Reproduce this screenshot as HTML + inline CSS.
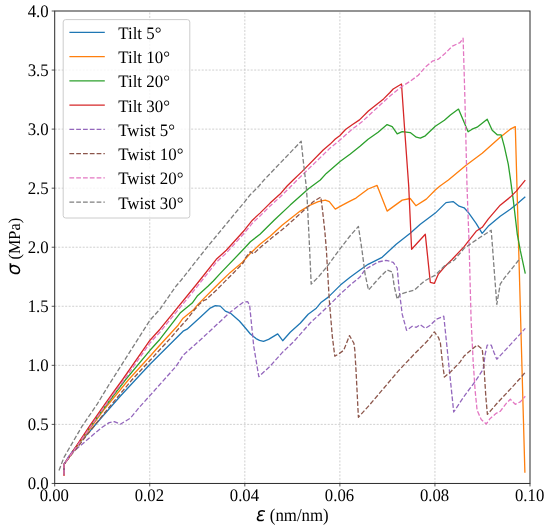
<!DOCTYPE html>
<html><head><meta charset="utf-8"><title>Stress-strain</title>
<style>
html,body{margin:0;padding:0;background:#fff;}
svg{display:block;}
text{font-family:"Liberation Serif","Times New Roman",serif;fill:#000;text-rendering:geometricPrecision;}
.sym{font-family:"DejaVu Sans","Liberation Sans",sans-serif;font-style:italic;}
</style></head><body>
<svg width="550" height="528" viewBox="0 0 550 528">
<rect width="550" height="528" fill="#fff"/>

<g stroke="#bcbcbc" stroke-width="0.7" stroke-dasharray="2 1.5" fill="none">
<path d="M149.76 483.45 V11.0"/>
<path d="M244.82 483.45 V11.0"/>
<path d="M339.88 483.45 V11.0"/>
<path d="M434.94 483.45 V11.0"/>
<path d="M54.7 424.39 H530.0"/>
<path d="M54.7 365.34 H530.0"/>
<path d="M54.7 306.28 H530.0"/>
<path d="M54.7 247.22 H530.0"/>
<path d="M54.7 188.17 H530.0"/>
<path d="M54.7 129.11 H530.0"/>
<path d="M54.7 70.06 H530.0"/>
</g>
<clipPath id="c"><rect x="54.7" y="11.0" width="475.3" height="472.45"/></clipPath>
<g clip-path="url(#c)" fill="none" stroke-width="1.3" stroke-linejoin="round">
<path d="M64.0 474.4 L64.0 464.3 L72.0 452.0 L80.0 442.0 L90.0 431.0 L102.0 417.0 L120.0 396.5 L135.3 380.0 L150.0 364.3 L160.0 354.3 L180.1 334.2 L183.1 331.2 L187.1 329.2 L200.0 317.5 L210.2 308.1 L215.3 305.7 L220.3 306.1 L225.3 311.1 L230.3 313.1 L239.4 321.0 L245.0 327.5 L250.4 334.0 L256.0 338.6 L259.5 340.4 L263.5 341.4 L268.6 339.4 L277.7 333.9 L282.7 340.7 L290.2 332.3 L300.2 323.3 L308.2 314.2 L316.3 308.2 L321.3 302.2 L328.3 297.1 L340.4 285.1 L350.4 277.1 L360.0 270.0 L368.1 264.3 L382.1 257.3 L396.2 244.3 L410.2 233.2 L420.3 224.2 L435.3 213.1 L444.4 204.1 L446.0 202.6 L453.1 201.6 L459.1 206.2 L464.1 207.8 L468.1 212.2 L476.1 223.3 L482.2 233.3 L488.2 226.3 L500.2 216.2 L510.3 209.2 L516.3 204.6 L525.3 196.7" stroke="#1f77b4" stroke-linecap="butt"/>
<path d="M64.0 474.4 L64.0 464.3 L76.0 447.5 L90.0 428.5 L104.0 409.5 L116.0 395.0 L128.3 380.0 L150.0 356.3 L160.0 345.0 L178.1 325.2 L183.1 318.2 L193.2 310.1 L198.2 304.1 L216.3 286.0 L220.3 282.0 L230.3 272.4 L242.4 262.3 L250.4 253.3 L260.0 244.3 L270.1 236.2 L282.1 225.2 L300.2 211.1 L310.2 205.1 L318.3 201.7 L325.3 200.1 L329.3 201.7 L335.3 209.1 L342.4 205.1 L350.0 201.1 L356.0 198.1 L368.1 189.0 L377.1 185.4 L387.1 211.1 L402.2 200.1 L410.2 198.5 L415.9 205.7 L426.3 199.1 L435.3 190.0 L440.0 186.0 L448.4 180.0 L466.1 165.3 L482.2 153.3 L500.2 137.2 L510.3 129.2 L515.3 126.6 L524.9 472.7" stroke="#ff7f0e" stroke-linecap="butt"/>
<path d="M64.0 474.4 L64.0 464.3 L76.0 447.0 L90.0 427.0 L104.0 408.0 L115.0 393.5 L125.3 380.0 L150.0 350.3 L160.0 339.2 L180.1 313.1 L192.2 303.1 L197.2 296.1 L208.2 286.0 L213.3 281.0 L220.3 273.4 L244.4 248.3 L250.4 241.7 L260.0 234.2 L274.1 220.2 L290.2 205.1 L308.2 189.0 L312.2 186.0 L320.3 180.0 L326.3 173.4 L340.4 161.3 L350.0 154.3 L360.0 146.3 L368.1 139.2 L378.1 132.2 L387.1 124.6 L392.2 126.6 L397.2 133.8 L402.2 131.6 L410.2 132.6 L416.3 137.2 L420.3 138.2 L425.3 135.8 L435.3 126.2 L444.4 120.2 L450.4 115.1 L458.5 109.1 L468.1 131.8 L472.1 129.2 L477.1 127.2 L487.2 119.2 L492.2 130.2 L497.2 134.8 L501.2 134.8 L504.3 146.3 L508.3 164.3 L510.3 178.1 L513.3 200.2 L517.3 234.3 L520.3 250.4 L525.3 273.7" stroke="#2ca02c" stroke-linecap="butt"/>
<path d="M64.0 475.9 L64.0 464.3 L76.1 446.3 L90.2 425.2 L104.2 405.1 L114.3 391.0 L122.3 380.0 L150.0 340.2 L160.0 329.2 L195.2 286.0 L199.2 281.0 L216.3 259.3 L226.3 250.3 L244.4 230.2 L252.4 220.2 L260.0 213.1 L270.1 203.1 L280.1 194.1 L287.1 186.0 L293.2 180.0 L302.2 171.4 L323.2 150.0 L330.2 144.1 L335.3 139.0 L339.7 135.8 L345.5 129.5 L351.8 125.0 L359.5 119.9 L368.4 111.0 L374.7 105.9 L383.6 98.9 L389.7 92.8 L393.2 89.0 L401.5 84.0 L404.7 130.2 L408.7 186.0 L411.6 249.3 L425.3 234.2 L430.3 282.4 L434.3 283.4 L438.4 274.1 L444.4 267.0 L452.0 259.5 L464.1 246.6 L476.1 231.3 L482.2 227.3 L488.2 219.2 L500.2 205.2 L510.3 197.1 L516.3 191.1 L525.3 180.1" stroke="#d62728" stroke-linecap="butt"/>
<path d="M64.0 472.5 L64.0 464.3 L70.0 454.3 L82.1 444.3 L90.2 437.2 L102.2 427.2 L109.2 422.6 L114.3 421.6 L120.3 424.2 L130.3 418.2 L140.4 406.1 L150.4 395.1 L158.5 386.0 L176.1 366.3 L183.1 355.3 L202.2 338.2 L230.3 312.1 L243.4 302.1 L247.6 301.7 L249.6 305.0 L253.7 346.0 L258.8 376.7 L270.2 366.1 L282.2 352.6 L294.3 341.0 L310.2 323.0 L326.3 308.0 L340.4 294.0 L350.4 284.8 L360.0 277.0 L365.1 269.5 L378.1 262.0 L386.1 260.3 L393.2 262.3 L397.2 268.0 L399.2 290.1 L402.2 314.2 L406.6 330.3 L412.2 326.3 L416.3 327.3 L420.3 324.7 L425.3 328.3 L430.3 325.3 L436.3 319.2 L443.8 316.2 L453.7 412.0 L464.1 396.3 L476.1 380.2 L483.2 369.2 L485.2 354.1 L487.2 345.1 L491.2 345.1 L494.2 353.1 L496.8 359.2 L506.3 349.1 L525.3 328.4" stroke="#9467bd" stroke-dasharray="4.75 2.05" stroke-linecap="butt"/>
<path d="M64.0 474.4 L64.0 464.3 L76.0 449.0 L90.0 431.3 L104.0 413.5 L116.0 399.0 L131.8 380.0 L150.9 359.5 L160.0 349.5 L169.7 339.1 L177.4 330.0 L186.9 319.5 L194.5 309.8 L199.6 303.9 L203.5 300.7 L206.0 299.7 L216.5 290.0 L225.5 280.9 L234.4 272.0 L243.3 262.8 L245.8 257.4 L250.3 251.6 L253.5 253.9 L258.5 249.1 L261.3 246.6 L272.7 237.1 L285.5 226.9 L298.2 215.5 L304.5 209.7 L313.5 201.5 L320.8 197.0 L322.4 209.1 L324.9 232.0 L326.4 250.0 L327.3 266.3 L329.3 300.2 L332.3 336.3 L334.8 356.2 L339.4 353.4 L343.7 350.3 L349.5 335.6 L353.9 343.3 L354.8 350.0 L356.0 370.1 L358.4 417.3 L370.1 404.3 L382.1 390.2 L398.2 371.1 L414.3 354.1 L428.3 340.0 L434.3 331.9 L438.4 337.3 L440.4 343.0 L442.4 362.1 L444.4 377.1 L450.4 372.1 L460.0 362.1 L464.1 356.1 L472.1 349.1 L477.1 345.1 L482.2 349.1 L483.8 364.2 L485.8 396.3 L487.4 414.4 L496.2 404.3 L508.3 391.3 L520.3 378.2 L525.3 372.2" stroke="#8c564b" stroke-dasharray="4.75 2.05" stroke-linecap="butt"/>
<path d="M64.0 474.8 L64.0 464.3 L76.1 447.3 L90.2 427.2 L104.2 407.1 L114.3 393.0 L122.3 382.5 L150.0 343.0 L160.0 332.0 L195.2 289.0 L199.2 284.0 L216.3 262.3 L226.3 253.0 L244.4 233.0 L252.4 223.2 L260.0 216.0 L270.1 206.0 L280.1 197.0 L291.2 186.0 L297.2 180.0 L330.2 147.9 L339.7 140.3 L351.8 129.5 L362.0 121.8 L370.9 113.5 L379.8 105.3 L389.7 96.3 L402.2 86.3 L410.2 81.2 L418.3 75.2 L425.3 67.2 L432.3 61.2 L438.4 59.2 L444.4 54.1 L452.4 46.1 L460.0 42.7 L463.1 38.2 L464.1 70.3 L465.1 106.0 L467.0 186.0 L469.1 244.0 L471.1 320.0 L473.1 360.2 L475.1 390.3 L477.1 410.3 L481.2 419.4 L486.2 424.0 L490.2 418.4 L496.2 413.3 L500.2 411.3 L506.3 403.3 L510.3 399.3 L515.3 404.3 L520.3 401.9 L525.3 396.3" stroke="#e377c2" stroke-dasharray="4.75 2.05" stroke-linecap="butt"/>
<path d="M59.0 470.4 L64.0 457.3 L82.1 426.2 L97.2 404.1 L110.0 383.0 L150.0 320.2 L160.0 309.1 L176.1 286.0 L181.3 280.0 L206.2 248.3 L244.4 202.1 L250.0 195.0 L259.0 186.0 L264.0 180.0 L301.2 141.2 L303.2 160.3 L306.2 186.0 L307.2 200.0 L309.2 240.2 L311.2 284.1 L318.3 277.1 L327.3 266.3 L340.4 248.3 L350.0 236.0 L358.4 226.4 L362.0 250.3 L365.1 274.1 L368.5 290.1 L378.1 279.1 L387.1 270.0 L392.2 272.0 L394.2 286.1 L397.2 299.2 L400.2 294.1 L414.3 290.1 L424.3 281.1 L435.3 275.1 L444.4 266.0 L454.4 260.0 L464.1 248.3 L480.2 237.3 L491.2 230.3 L492.6 248.3 L494.2 270.1 L496.8 304.3 L500.2 284.2 L504.3 278.2 L512.3 268.1 L520.3 258.1" stroke="#7f7f7f" stroke-dasharray="4.75 2.05" stroke-linecap="butt"/>
</g>
<rect x="54.7" y="11.0" width="475.3" height="472.45" fill="none" stroke="#2a2a2a" stroke-width="1.0"/>
<g stroke="#2a2a2a" stroke-width="0.8">
<path d="M54.70 483.45 v3.0"/>
<path d="M149.76 483.45 v3.0"/>
<path d="M244.82 483.45 v3.0"/>
<path d="M339.88 483.45 v3.0"/>
<path d="M434.94 483.45 v3.0"/>
<path d="M530.00 483.45 v3.0"/>
<path d="M54.7 483.45 h-3.0"/>
<path d="M54.7 424.39 h-3.0"/>
<path d="M54.7 365.34 h-3.0"/>
<path d="M54.7 306.28 h-3.0"/>
<path d="M54.7 247.22 h-3.0"/>
<path d="M54.7 188.17 h-3.0"/>
<path d="M54.7 129.11 h-3.0"/>
<path d="M54.7 70.06 h-3.0"/>
<path d="M54.7 11.00 h-3.0"/>
</g>
<text transform="translate(54.30 501.00) scale(0.945 1)" font-size="17.7" text-anchor="middle">0.00</text>
<text transform="translate(149.36 501.00) scale(0.945 1)" font-size="17.7" text-anchor="middle">0.02</text>
<text transform="translate(244.42 501.00) scale(0.945 1)" font-size="17.7" text-anchor="middle">0.04</text>
<text transform="translate(339.48 501.00) scale(0.945 1)" font-size="17.7" text-anchor="middle">0.06</text>
<text transform="translate(434.54 501.00) scale(0.945 1)" font-size="17.7" text-anchor="middle">0.08</text>
<text transform="translate(529.60 501.00) scale(0.945 1)" font-size="17.7" text-anchor="middle">0.10</text>
<text transform="translate(48.70 489.25) scale(0.95 1)" font-size="17.7" text-anchor="end">0.0</text>
<text transform="translate(48.70 430.19) scale(0.95 1)" font-size="17.7" text-anchor="end">0.5</text>
<text transform="translate(48.70 371.14) scale(0.95 1)" font-size="17.7" text-anchor="end">1.0</text>
<text transform="translate(48.70 312.08) scale(0.95 1)" font-size="17.7" text-anchor="end">1.5</text>
<text transform="translate(48.70 253.03) scale(0.95 1)" font-size="17.7" text-anchor="end">2.0</text>
<text transform="translate(48.70 193.97) scale(0.95 1)" font-size="17.7" text-anchor="end">2.5</text>
<text transform="translate(48.70 134.91) scale(0.95 1)" font-size="17.7" text-anchor="end">3.0</text>
<text transform="translate(48.70 75.86) scale(0.95 1)" font-size="17.7" text-anchor="end">3.5</text>
<text transform="translate(48.70 16.80) scale(0.95 1)" font-size="17.7" text-anchor="end">4.0</text>
<text transform="translate(292.30 520.50) scale(0.925 1)" font-size="18.2" text-anchor="middle"><tspan class="sym" font-size="19.5">ε</tspan> (nm/nm)</text>
<text transform="translate(20.40 246.60) rotate(-90) scale(0.97 1)" font-size="16.8" text-anchor="middle"><tspan class="sym" font-size="19">σ</tspan> (MPa)</text>
<rect x="63.2" y="19.6" width="126.6" height="198.4" rx="2.5" ry="2.5" fill="#fff" fill-opacity="0.8" stroke="#ccc" stroke-width="1"/>
<path d="M69.4 32.40 H104.8" stroke="#1f77b4" stroke-width="1.3" fill="none"/>
<text transform="translate(118.20 38.85) scale(0.972 1)" font-size="17.4" text-anchor="start">Tilt 5°</text>
<path d="M69.4 56.65 H104.8" stroke="#ff7f0e" stroke-width="1.3" fill="none"/>
<text transform="translate(118.20 63.10) scale(0.972 1)" font-size="17.4" text-anchor="start">Tilt 10°</text>
<path d="M69.4 80.90 H104.8" stroke="#2ca02c" stroke-width="1.3" fill="none"/>
<text transform="translate(118.20 87.35) scale(0.972 1)" font-size="17.4" text-anchor="start">Tilt 20°</text>
<path d="M69.4 105.15 H104.8" stroke="#d62728" stroke-width="1.3" fill="none"/>
<text transform="translate(118.20 111.60) scale(0.972 1)" font-size="17.4" text-anchor="start">Tilt 30°</text>
<path d="M69.4 129.40 H104.8" stroke="#9467bd" stroke-width="1.3" fill="none" stroke-dasharray="4.75 2.05"/>
<text transform="translate(118.20 135.85) scale(0.972 1)" font-size="17.4" text-anchor="start">Twist 5°</text>
<path d="M69.4 153.65 H104.8" stroke="#8c564b" stroke-width="1.3" fill="none" stroke-dasharray="4.75 2.05"/>
<text transform="translate(118.20 160.10) scale(0.972 1)" font-size="17.4" text-anchor="start">Twist 10°</text>
<path d="M69.4 177.90 H104.8" stroke="#e377c2" stroke-width="1.3" fill="none" stroke-dasharray="4.75 2.05"/>
<text transform="translate(118.20 184.35) scale(0.972 1)" font-size="17.4" text-anchor="start">Twist 20°</text>
<path d="M69.4 202.15 H104.8" stroke="#7f7f7f" stroke-width="1.3" fill="none" stroke-dasharray="4.75 2.05"/>
<text transform="translate(118.20 208.60) scale(0.972 1)" font-size="17.4" text-anchor="start">Twist 30°</text>
</svg></body></html>
